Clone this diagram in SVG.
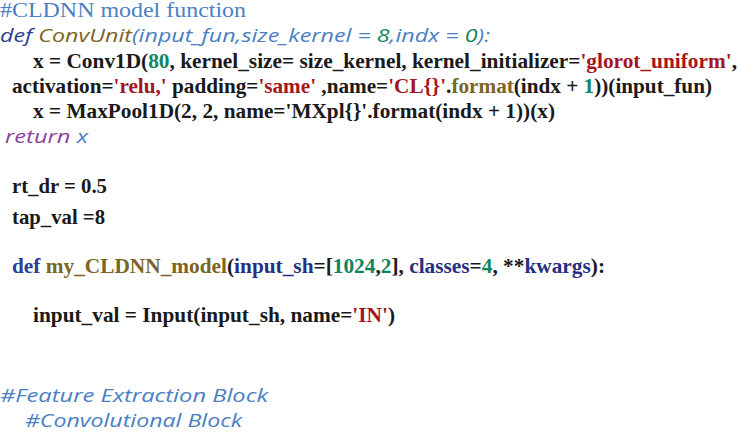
<svg xmlns="http://www.w3.org/2000/svg" width="738" height="432" viewBox="0 0 738 432">
<style>
.cm{font-family:"Liberation Serif",serif;font-size:20px;fill:#4a82c3}
.it{font-family:"Open Sans","Liberation Sans",sans-serif;font-style:italic;font-size:18px}
.cd{font-family:"Liberation Serif",serif;font-weight:bold;font-size:21px;fill:#1a1a1a}
.kw{fill:#2d3f92}.fn{fill:#7b6424}.pa{fill:#4a80c2}.nu{fill:#13855d}.st{fill:#a3161f}.rt{fill:#8b3fa3}.nv{fill:#263080}
</style>
<rect width="738" height="432" fill="#fff"/>
<g id="code">
<text class="cm" x="0" y="17" textLength="246" lengthAdjust="spacingAndGlyphs">#CLDNN model function</text>
<text class="it" x="0" y="42" textLength="490" lengthAdjust="spacingAndGlyphs"><tspan class="kw">def </tspan><tspan class="fn">ConvUnit</tspan><tspan class="pa">(input_fun,size_kernel = </tspan><tspan class="nu">8</tspan><tspan class="pa">,indx = </tspan><tspan class="nu">0</tspan><tspan class="pa">):</tspan></text>
<text class="cd" x="33" y="68" textLength="704" lengthAdjust="spacingAndGlyphs">x = Conv1D(<tspan class="nu">80</tspan>, kernel_size= size_kernel, kernel_initializer=<tspan class="st">'glorot_uniform'</tspan>,</text>
<text class="cd" x="12" y="93" textLength="700" lengthAdjust="spacingAndGlyphs">activation=<tspan class="st">'relu,'</tspan> padding=<tspan class="st">'same'</tspan> ,name=<tspan class="st">'CL{}'</tspan>.<tspan class="fn">format</tspan>(indx + <tspan class="nu">1</tspan>))(input_fun)</text>
<text class="cd" x="33" y="118" textLength="522" lengthAdjust="spacingAndGlyphs">x = MaxPool1D(2, 2, name='MXpl{}'.format(indx + 1))(x)</text>
<text class="it" x="5" y="143" textLength="83" lengthAdjust="spacingAndGlyphs"><tspan class="rt">return </tspan><tspan class="pa">x</tspan></text>
<text class="cd" x="12" y="193" textLength="95" lengthAdjust="spacingAndGlyphs">rt_dr = 0.5</text>
<text class="cd" x="12" y="224" textLength="93" lengthAdjust="spacingAndGlyphs">tap_val =8</text>
<text class="cd" x="12" y="273" textLength="593" lengthAdjust="spacingAndGlyphs"><tspan class="kw">def </tspan><tspan class="fn">my_CLDNN_model</tspan>(<tspan class="nv">input_sh</tspan>=[<tspan class="nu">1024</tspan>,<tspan class="nu">2</tspan>], <tspan class="nv">classes</tspan>=<tspan class="nu">4</tspan>, **<tspan class="nv">kwargs</tspan>):</text>
<text class="cd" x="33" y="322" textLength="362" lengthAdjust="spacingAndGlyphs">input_val = Input(input_sh, name=<tspan class="st">'IN'</tspan>)</text>
<text class="it pa" x="0" y="402" textLength="268" lengthAdjust="spacingAndGlyphs">#Feature Extraction Block</text>
<text class="it pa" x="25" y="427" textLength="217" lengthAdjust="spacingAndGlyphs">#Convolutional Block</text>
</g>
</svg>
